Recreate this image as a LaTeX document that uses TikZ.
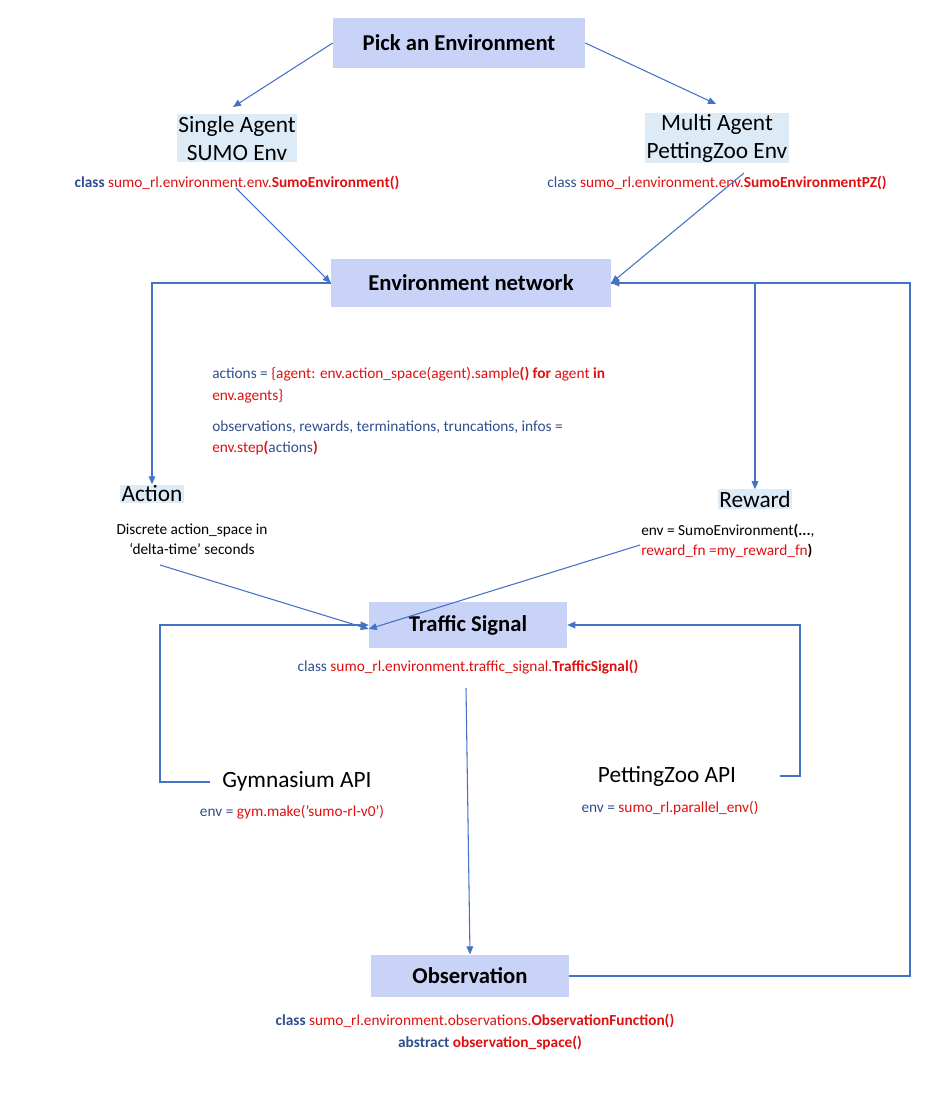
\documentclass[tikz,border=0pt]{standalone}
\usepackage{fontspec}
\setmainfont{Carlito}
\usetikzlibrary{arrows.meta}
\definecolor{bx}{HTML}{C9D3F8}
\definecolor{lb}{HTML}{DDEBF7}
\definecolor{ln}{HTML}{4472C4}
\definecolor{tb}{HTML}{2F4F8F}
\definecolor{tr}{HTML}{E01010}
\newcommand{\R}[1]{\textcolor{tr}{#1}}
\newcommand{\RB}[1]{\textcolor{tr}{\textbf{#1}}}
\begin{document}
\begin{tikzpicture}[x=0.75pt,y=-0.75pt,
 box/.style={fill=bx,inner sep=0pt,font=\fontsize{17}{20}\selectfont\bfseries},
 lab/.style={fill=lb,inner sep=1pt,font=\fontsize{17.5}{21}\selectfont,align=center},
 code/.style={inner sep=0pt,font=\fontsize{11.5}{14}\selectfont,text=tb},
 arr/.style={draw=ln,line width=0.8pt,-{Triangle[length=6pt,width=5pt]}},
 ln/.style={draw=ln,line width=0.8pt}]
\path[use as bounding box,fill=white] (0,0) rectangle (940,1098);
\node[box,minimum width=189pt,minimum height=37.5pt] (pick) at (459,43) {Pick an Environment};
\node[box,minimum width=210pt,minimum height=36pt] (net) at (471,283) {Environment network};
\node[box,minimum width=148.5pt,minimum height=34.5pt] (ts) at (468,625) {Traffic Signal};
\node[box,minimum width=148.5pt,minimum height=32pt] (obs) at (470,976) {Observation};
\node[lab] (single) at (237,138) {Single Agent\\SUMO Env};
\node[lab] (multi) at (717,138) {Multi Agent\\PettingZoo Env};
\node[lab] (action) at (152,494) {Action};
\node[lab] (reward) at (755,499) {Reward};
\node[code] (c1) at (237,183) {\textbf{class} \R{sumo\_rl.environment.env.}\RB{SumoEnvironment()}};
\node[code] (c2) at (717,183) {class \R{sumo\_rl.environment.env.}\RB{SumoEnvironmentPZ()}};
\node[code,anchor=west,align=left] (act) at (212,385) {actions = \R{\{agent: env.action\_space(agent).sample}\RB{()} \RB{for} \R{agent} \RB{in}\\[2pt]\R{env.agents\}}};
\node[code,anchor=west,align=left] (step) at (212,438) {observations, rewards, terminations, truncations, infos =\\[2pt]\R{env.step}\RB{(}actions\RB{)}};
\node[code,text=black,align=center] (disc) at (192,539) {Discrete action\_space in\\[1pt]‘delta-time’ seconds};
\node[code,text=black,anchor=west,align=left] (renv) at (641,541) {env = SumoEnvironment\textbf{(...},\\[1pt]\R{reward\_fn =my\_reward\_fn}\textbf{)}};
\node[code] (c3) at (468,667) {class \R{sumo\_rl.environment.traffic\_signal.}\RB{TrafficSignal()}};
\node[lab,fill=none,inner sep=0pt] (gym) at (297,781) {Gymnasium API};
\node[code] (gymc) at (292,812) {env = \R{gym.make('sumo-rl-v0')}};
\node[lab,fill=none,inner sep=0pt] (pz) at (667,776) {PettingZoo API};
\node[code] (pzc) at (670,808) {env = \R{sumo\_rl.parallel\_env()}};
\node[code] (c4) at (475,1021) {\textbf{class} \R{sumo\_rl.environment.observations.}\RB{ObservationFunction()}};
\node[code] (c5) at (490,1043) {\textbf{abstract} \RB{observation\_space()}};
\coordinate (sp) at (236,188);
\coordinate (mp) at (744,173);
\coordinate (fb) at (910,283);
\coordinate (gl) at (210,782);
\coordinate (pr) at (780,776);
\coordinate (tsb) at (466,688);
\coordinate (tsw) at ([yshift=-3pt]ts.west);
\draw[arr] (pick.west) -- (233,107);
\draw[arr] (pick.east) -- (716,104);
\draw[arr] (sp) -- (net.west);
\draw[arr] (mp) -- (net.east);
\draw[arr] (net.west) -| (action.north);
\draw[arr] (net.east) -| (reward.north);
\draw[arr] (obs.east) -| (fb) -- (net.east);
\draw[arr] (160,565) -- (tsw);
\draw[arr] (640,545) -- (tsw);
\draw[arr] (gl) -| (160,625) -- (ts.west);
\draw[arr] (pr) -| (800,625) -- (ts.east);
\draw[arr] (tsb) -- (obs.north);
\end{tikzpicture}
\end{document}
